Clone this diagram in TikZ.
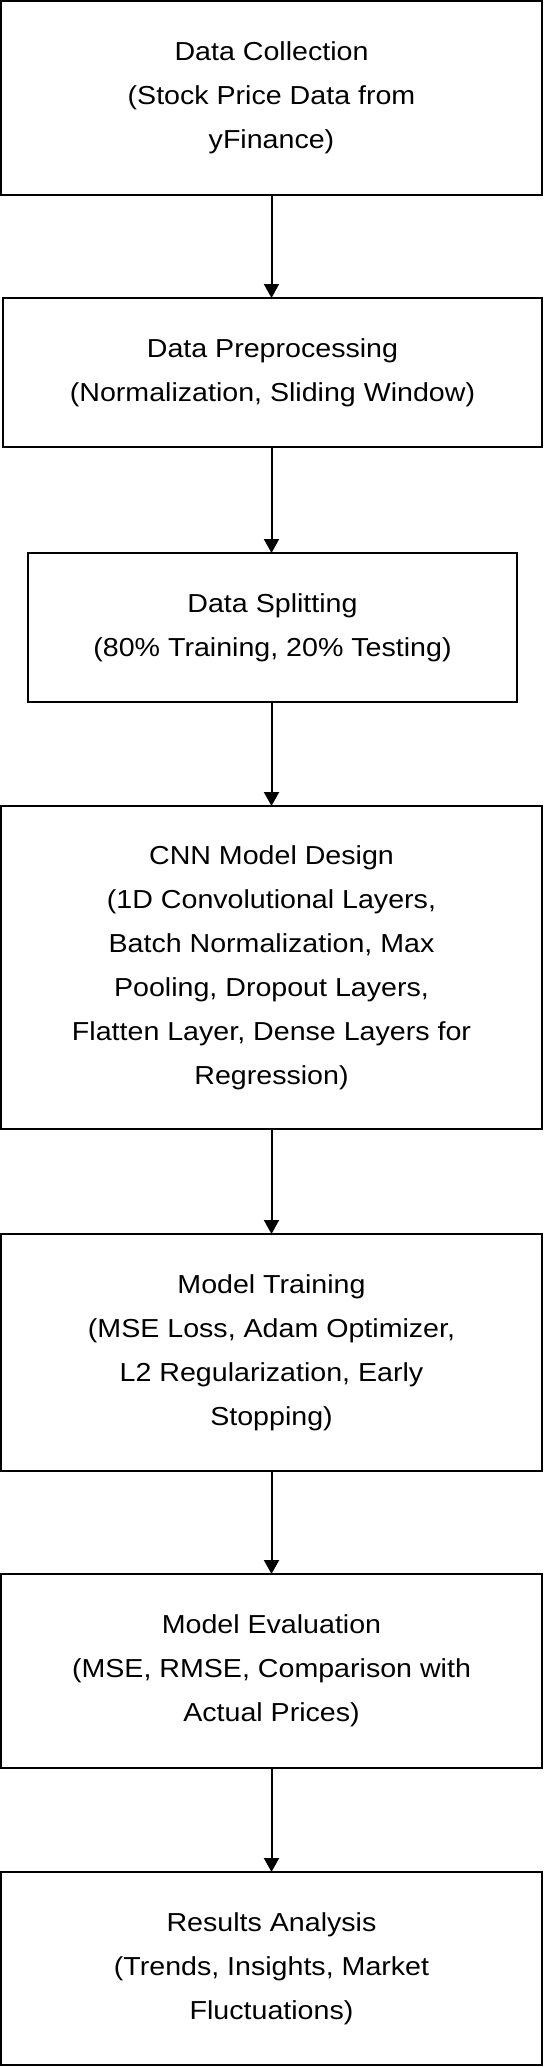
\documentclass[tikz,border=0pt]{standalone}
\usepackage{fontspec}
\setmainfont[FakeStretch=1.1]{Liberation Sans}
\usetikzlibrary{arrows.meta}
\begin{document}
\begin{tikzpicture}[x=1pt,y=1pt,
  stepbox/.style={draw=black, line width=2pt, fill=white, outer sep=0pt,
    align=center, inner sep=0pt, minimum width=541pt,
    font=\fontsize{26}{44}\selectfont},
  flow/.style={line width=2pt, -{Triangle[width=15pt,length=14pt]}}]
\useasboundingbox (0,0) rectangle (544,-2067);
\fill[white] (0,0) rectangle (544,-2067);
\node[stepbox, minimum height=194pt] (b1) at (271.5,-98)
  {Data Collection\\(Stock Price Data from\\yFinance)};
\node[stepbox, minimum width=539pt, minimum height=149pt] (b2) at (272.5,-372.5)
  {Data Preprocessing\\(Normalization, Sliding Window)};
\node[stepbox, minimum width=489pt, minimum height=149pt] (b3) at (272.5,-627.5)
  {Data Splitting\\(80\% Training, 20\% Testing)};
\node[stepbox, minimum height=323pt] (b4) at (271.5,-967.5)
  {CNN Model Design\\(1D Convolutional Layers,\\Batch Normalization, Max\\Pooling, Dropout Layers,\\Flatten Layer, Dense Layers for\\Regression)};
\node[stepbox, minimum height=237pt] (b5) at (271.5,-1352.5)
  {Model Training\\(MSE Loss, Adam Optimizer,\\L2 Regularization, Early\\Stopping)};
\node[stepbox, minimum height=194pt] (b6) at (271.5,-1671)
  {Model Evaluation\\(MSE, RMSE, Comparison with\\Actual Prices)};
\node[stepbox, minimum height=193pt] (b7) at (271.5,-1968.5)
  {Results Analysis\\(Trends, Insights, Market\\Fluctuations)};
\draw[flow] (b1.south) -- (b1.south |- b2.north);
\draw[flow] (b2.south -| b1.south) -- (b1.south |- b3.north);
\draw[flow] (b3.south -| b1.south) -- (b1.south |- b4.north);
\draw[flow] (b4.south) -- (b5.north);
\draw[flow] (b5.south) -- (b6.north);
\draw[flow] (b6.south) -- (b7.north);
\end{tikzpicture}
\end{document}
